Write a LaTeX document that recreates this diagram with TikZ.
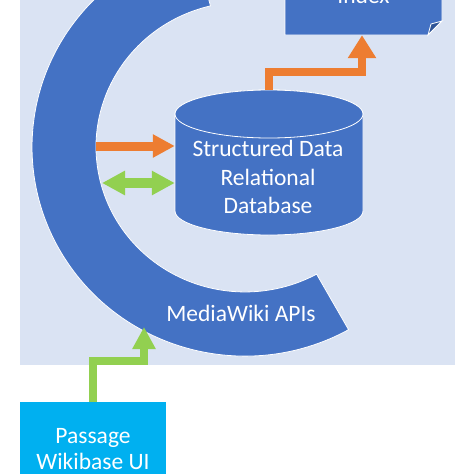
\documentclass[tikz,border=0pt]{standalone}
\usepackage{fontspec}
\setmainfont{Carlito}
\usetikzlibrary{arrows.meta}
\definecolor{pblue}{HTML}{4472C4}
\definecolor{panel}{HTML}{DAE3F3}
\definecolor{porange}{HTML}{ED7D31}
\definecolor{pgreen}{HTML}{92D050}
\definecolor{pcyan}{HTML}{00B0F0}
\definecolor{pfold}{HTML}{2F5597}
\tikzset{
  shapefill/.style={fill=pblue, draw=white, line width=0.8pt},
  lbl/.style={text=white, font=\fontsize{23.5}{28.5}\selectfont, align=center, inner sep=0pt},
  oarrow/.style={draw=porange, line width=#1, line join=miter},
  garrow/.style={draw=pgreen, line width=#1, line join=miter},
}
\begin{document}
\begin{tikzpicture}[x=1pt, y=-1pt]
\clip (0,0) rectangle (474,474);
\fill[white] (0,0) rectangle (474,474);
% panel
\fill[panel] (20,-20) rectangle (455,365);
% big block arc
\path[shapefill] (210.5,5.9) arc[start angle=-103.4, end angle=-298.7, x radius=149, y radius=145]
  -- (348.6,329.7) arc[start angle=-299.1, end angle=-104, x radius=213, y radius=209]
  -- cycle;
% cylinder
\path[shapefill] (175,114) -- (175,211) arc[start angle=180, end angle=0, x radius=94, y radius=24]
  -- (363,114) arc[start angle=0, end angle=-180, x radius=94, y radius=24] -- cycle;
\path[shapefill] (269,114) ellipse[x radius=94, y radius=24];
\node (db) [inner sep=0pt, minimum width=188pt, minimum height=145pt] at (269,162.5) {};
\node (dbtxt) [lbl] at (268,177) {Structured Data\\Relational\\Database};
% index document with folded corner
\path[shapefill] (285,-40) -- (442,-40) -- (442,21) -- (428,35) -- (285,35) -- cycle;
\path[fill=pfold, draw=white, line width=0.8pt] (428,35) -- (431,24) -- (442,21) -- cycle;
\node (idxbox) [inner sep=0pt, minimum width=157pt, minimum height=75pt] at (363.5,-2.5) {};
\node (idx) [lbl] at (363.5,-5) {Index};
% MediaWiki label
\node (mw) [lbl] at (241,313) {MediaWiki APIs};
% Passage box
\node (ui) [fill=pcyan, inner sep=0pt, minimum width=146pt, minimum height=98pt] at (93,451) {};
\node (uitxt) [lbl, font=\fontsize{23.5}{26}\selectfont] at (93,449) {Passage\\Wikibase UI};
% connectors
\coordinate (oin) at (96,146);
\coordinate (gin) at (102,183);
\coordinate (mwpt) at (144,327);
\coordinate (ikx) at (362,72);
\coordinate (gkx) at (144,361);
\draw[oarrow=9pt, -{Triangle[length=22pt,width=22pt]}] (oin) -- (oin -| db.west);
\draw[garrow=10pt, {Triangle[length=23pt,width=23pt]}-{Triangle[length=23pt,width=23pt]}] (gin) -- (gin -| db.west);
\draw[oarrow=8pt, -{Triangle[length=23pt,width=27pt]}] (db.north) |- (ikx) -- (ikx |- idxbox.south);
\draw[garrow=7.5pt, -{Triangle[length=22pt,width=22pt]}] (ui.north) |- (gkx) -- (mwpt);
\end{tikzpicture}
\end{document}
